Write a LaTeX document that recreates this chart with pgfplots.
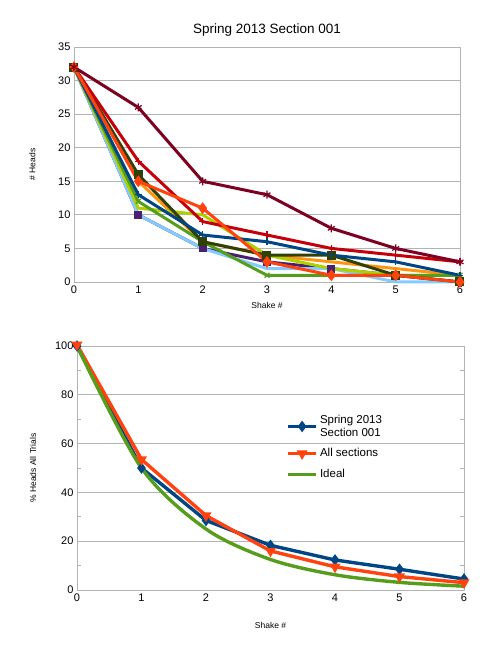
\documentclass[border=0pt]{standalone}
\usepackage{pgfplots}
\pgfplotsset{compat=1.18}
\usepackage{fontspec}
\setmainfont{Liberation Sans}
\definecolor{cMaroon}{HTML}{7E0021}
\definecolor{cRed}{HTML}{C5000B}
\definecolor{cDBlue}{HTML}{004586}
\definecolor{cOrRed}{HTML}{FF420E}
\definecolor{cOlive}{HTML}{314004}
\definecolor{cLime}{HTML}{AECF00}
\definecolor{cGreen}{HTML}{579D1C}
\definecolor{cLBlue}{HTML}{83CAFF}
\definecolor{cPurple}{HTML}{4B1F6F}
\definecolor{cOrange}{HTML}{FF950E}
\definecolor{cGrid}{HTML}{B3B3B3}
\begin{document}
\begin{tikzpicture}
\path[use as bounding box] (0pt,0pt) rectangle (504pt,649pt);
\pgfplotsset{
  common/.style={
    anchor=south west, scale only axis,
    xmin=0, xmax=6, xtick={0,...,6},
    ymajorgrids, grid style={cGrid, line width=0.9pt},
    axis line style={cGrid, line width=0.9pt},
    major tick length=0pt,
    tick label style={font=\fontsize{11}{12}\selectfont},
    /pgf/number format/assume math mode=true,
    every axis plot/.append style={line width=3pt},
    clip=false,
  }
}
\begin{axis}[common, at={(74pt,367pt)}, width=386pt, height=235pt,
  ymin=0, ymax=35, ytick={0,5,...,35},
  xlabel={Shake \#}, ylabel={\# Heads},
  label style={font=\fontsize{8.5}{10}\selectfont},
  xlabel style={yshift=-2pt}, ylabel style={yshift=16pt}]
\addplot[color=cPurple, mark=square*, mark size=2.5pt] coordinates {(0,32)(1,10)(2,5)(3,3)(4,2)(5,1)(6,0)};
\addplot[color=cLBlue, mark=none] coordinates {(0,32)(1,10)(2,5)(3,2)(4,2)(5,0)(6,0)};
\addplot[color=cOrange, mark=none] coordinates {(0,32)(1,15)(2,6)(3,4)(4,3)(5,2)(6,1)};
\addplot[color=cLime, mark=none] coordinates {(0,32)(1,11)(2,10)(3,4)(4,2)(5,1)(6,1)};
\addplot[color=cGreen, mark=x, mark size=3.5pt, mark options={line width=1.2pt}] coordinates {(0,32)(1,12)(2,6)(3,1)(4,1)(5,1)(6,1)};
\addplot[color=cOlive, mark=square*, mark size=3pt] coordinates {(0,32)(1,16)(2,6)(3,4)(4,4)(5,1)(6,0)};
\addplot[color=cDBlue, mark=+, mark size=3.5pt, mark options={line width=1.2pt}] coordinates {(0,32)(1,13)(2,7)(3,6)(4,4)(5,3)(6,1)};
\addplot[color=cRed, mark=+, mark size=3.5pt, mark options={line width=1.2pt}] coordinates {(0,32)(1,18)(2,9)(3,7)(4,5)(5,4)(6,3)};
\addplot[color=cOrRed, mark=diamond*, mark size=3.5pt] coordinates {(0,32)(1,15)(2,11)(3,3)(4,1)(5,1)(6,0)};
\addplot[color=cMaroon, mark=asterisk, mark size=4pt, mark options={line width=1.2pt}] coordinates {(0,32)(1,26)(2,15)(3,13)(4,8)(5,5)(6,3)};
\end{axis}
\node[font=\fontsize{13.5}{16}\selectfont] at (267pt,619pt) {Spring 2013 Section 001};
\begin{axis}[common, at={(77pt,59pt)}, width=387pt, height=244pt,
  ymin=0, ymax=100, ytick={0,20,...,100},
  every axis plot/.append style={line width=3.4pt},
  minor y tick num=1, minor tick length=4pt, minor tick style={cGrid, line width=0.9pt},
  xlabel={Shake \#}, ylabel={\% Heads All Trials},
  label style={font=\fontsize{8.5}{10}\selectfont},
  xlabel style={yshift=-14pt}, ylabel style={yshift=12pt},
  legend style={at={(0.54,0.725)}, anchor=north west, draw=none, fill=none,
    font=\fontsize{11.5}{12.5}\selectfont, cells={anchor=west, align=left},
    row sep=7pt, inner sep=0pt},
  legend image code/.code={
    \draw[#1] (0cm,0cm) -- (1cm,0cm);
    \draw[#1, only marks] plot coordinates {(0.5cm,0cm)};
  },
  legend cell align=left]
\addplot[color=cDBlue, mark=diamond*, mark size=3pt] coordinates {(0,100)(1,50)(2,28.5)(3,18.3)(4,12.3)(5,8.5)(6,4.5)};
\addlegendentry{Spring 2013\\Section 001}
\addplot[color=cOrRed, mark=triangle*, mark size=3pt, mark options={rotate=180}] coordinates {(0,100.5)(1,53.5)(2,30.5)(3,16)(4,9.5)(5,5.5)(6,3)};
\addlegendentry{All sections}
\addplot[color=cGreen, mark=none, smooth] coordinates {(0,100)(1,50)(2,25)(3,12.5)(4,6.25)(5,3.125)(6,1.5625)};
\addlegendentry{Ideal}
\end{axis}
\end{tikzpicture}
\end{document}
